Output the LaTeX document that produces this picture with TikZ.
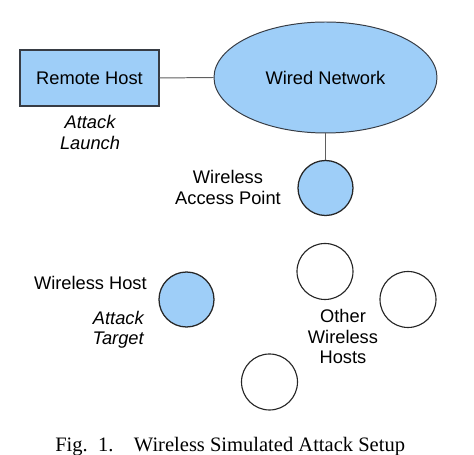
\documentclass[tikz,border=0pt]{standalone}
\usepackage{fontspec}
\setmainfont{Liberation Serif}
\setsansfont{Liberation Sans}
\usetikzlibrary{shapes.geometric}
\definecolor{skyblue}{RGB}{158, 206, 248}
\definecolor{slate}{RGB}{55, 60, 68}
\definecolor{wiregray}{RGB}{95, 95, 95}

\begin{document}
\begin{tikzpicture}[
        plain/.style={inner sep=0pt, font=\sffamily\fontsize{13}{14.5}\selectfont},
        slanted/.style={inner sep=0pt, font=\sffamily\itshape\fontsize{13}{14.5}\selectfont},
        hostbox/.style={plain, rectangle, draw=slate, fill=skyblue, line width=0.8pt,
                        minimum width=3.475cm, minimum height=1.40cm},
        netblob/.style={plain, ellipse, draw=slate, fill=skyblue, line width=0.7pt,
                        minimum width=5.575cm, minimum height=2.775cm},
        bluedot/.style={circle, draw=black!85, fill=skyblue, line width=0.9pt,
                        inner sep=0pt, minimum size=1.375cm},
        whitedot/.style={circle, draw=black!85, fill=white, line width=0.8pt,
                        inner sep=0pt, minimum size=1.40cm},
        wire/.style={wiregray, line width=0.7pt}
    ]
            \useasboundingbox                                   ( 0.00, 0.00) rectangle (11.85, 11.375);
            % hosts and network
            \node[hostbox]  (remote)  at ( 2.2375, 9.425 ) {Remote Host};
            \node[netblob]  (wired)   at ( 8.1375, 9.4375) {Wired Network};
            \node[bluedot]  (ap)      at ( 8.1375, 6.675 ) {};
            \node[bluedot]  (target)  at ( 4.6625, 3.8875) {};
            \node[whitedot] (otherA)  at ( 8.125 , 4.5875) {};
            \node[whitedot] (otherB)  at (10.20  , 3.8875) {};
            \node[whitedot] (otherC)  at ( 6.7375, 1.825 ) {};
            % links
            \draw[wire] (remote.east) -- (wired.west);
            \draw[wire] (wired.south) -- (ap.north);
            % labels
            \node[slanted, align=center]             (launch)  at ( 2.25  , 8.0625) {Attack\\Launch};
            \node[plain, align=center]               (aplabel) at ( 5.70  , 6.6875) {Wireless\\Access Point};
            \node[plain, anchor=east]                (whost)   at ( 3.675 , 4.30  ) {Wireless Host};
            \node[slanted, align=right, anchor=east] (tlabel)  at ( 3.60  , 3.125 ) {Attack\\Target};
            \node[plain, align=center]               (others)  at ( 8.575 , 2.9625) {Other\\Wireless\\Hosts};
            % caption
            \node[inner sep=0pt, anchor=base west, font=\rmfamily\fontsize{14.6}{16}\selectfont]
                 (caption) at ( 1.375 , 0.075) {Fig.\hspace{0.5em}1.\hspace{1em}Wireless Simulated Attack Setup};
        \end{tikzpicture}
\end{document}
